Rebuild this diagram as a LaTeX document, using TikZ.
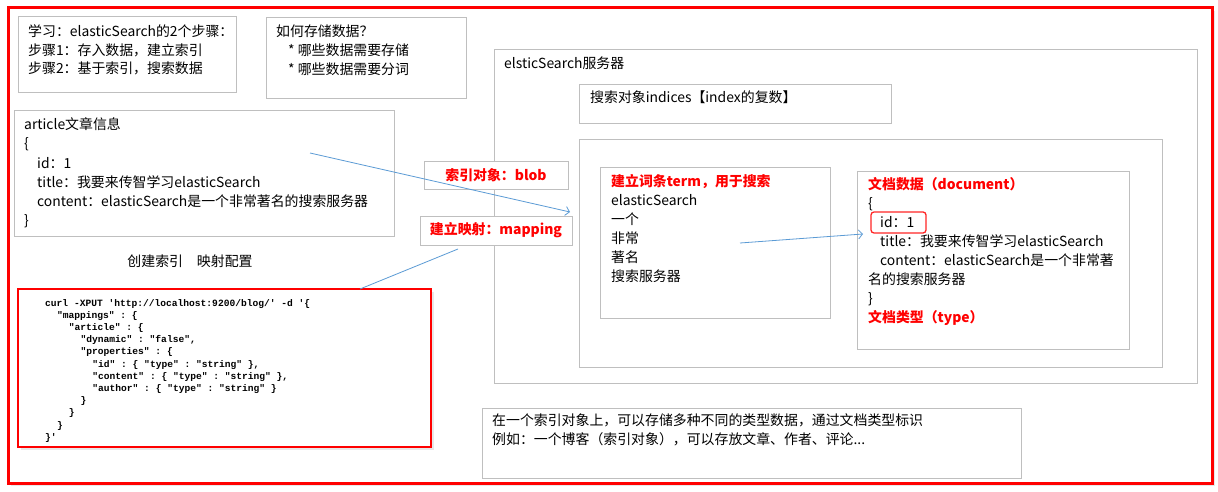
\documentclass[tikz,border=0pt]{standalone}
\usepackage{fontspec}
\setmainfont{Noto Sans CJK SC}
\setmonofont{Liberation Mono}
\usetikzlibrary{arrows.meta, fit, shadows}
\definecolor{boxgray}{RGB}{191,191,191}
\definecolor{linkblue}{RGB}{91,155,213}
\definecolor{markred}{RGB}{255,0,0}

\begin{document}
\begin{tikzpicture}[x=1pt, y=-1pt, >={Straight Barb[length=4pt,width=9pt]},
        gbox/.style={draw=boxgray, line width=1pt, inner sep=0pt, fill=white},
        rbox/.style={draw=markred, inner sep=0pt, fill=white,
            drop shadow={shadow xshift=3pt, shadow yshift=-3pt, opacity=.18}},
        txt/.style={anchor=base west, inner sep=0pt, font=\fontsize{13.9}{19}\selectfont},
        lbl/.style={txt, text=markred, font=\bfseries\fontsize{13.9}{19}\selectfont},
        codetxt/.style={anchor=base west, inner sep=0pt, font=\ttfamily\bfseries\fontsize{9.6}{12}\selectfont},
        link/.style={draw=linkblue, line width=.8pt}]
    \useasboundingbox (0,0) rectangle (1218,492);
    \node(frame)[rbox, line width=3pt, fit={(8,8) (1212,483)}] {};

    % left column
    \node(steps)[gbox, fit={(18,17) (236,93)}] {};
    \foreach \ln [count=\i from 0] in {学习：elasticSearch的2个步骤：,
            步骤1：存入数据，建立索引, 步骤2：基于索引，搜索数据}
        \node(steps\i)[txt] at (28,37+18.5*\i) {\ln};
    \node(store)[gbox, fit={(266,18) (466,99)}] {};
    \node(store0)[txt] at (276,37) {如何存储数据？};
    \node(store1)[txt] at (288,56) {* 哪些数据需要存储};
    \node(store2)[txt] at (288,75) {* 哪些数据需要分词};

    \node(article)[gbox, fit={(14,111) (394,236)}] {};
    \foreach \dx/\ln [count=\i from 0] in {0/article文章信息, 0/\{, 13/id：1,
            13/title：我要来传智学习elasticSearch,
            13/content：elasticSearch是一个非常著名的搜索服务器, 0/\}}
        \node(article\i)[txt] at (24+\dx,130+19*\i) {\ln};
    \node(howto)[txt, anchor=base] at (190,266) {创建索引\hspace{1em}映射配置};

    \node(code)[rbox, line width=2.5pt, fit={(18,289) (431,447)}] {};
    \foreach \lv/\ln [count=\i from 0] in {
            0/{curl -XPUT 'http://localhost:9200/blog/' -d '\{},
            1/{"mappings" : \{},
            2/{"article" : \{},
            3/{"dynamic" : "false",},
            3/{"properties" : \{},
            4/{"id" : \{ "type" : "string" \},},
            4/{"content" : \{ "type" : "string" \},},
            4/{"author" : \{ "type" : "string" \}},
            3/\}, 2/\}, 1/\}, 0/{\}'}}
        \node(code\i)[codetxt] at (45+11.8*\lv,306+12.2*\i) {\ln};

    % server
    \node(server)[gbox, fit={(494,50) (1197,383)}] {};
    \node(servername)[txt] at (504,69) {elsticSearch服务器};
    \node(indices)[gbox, fit={(579,85) (891,124)}] {};
    \node(indicesname)[txt] at (590,103) {搜索对象indices【index的复数】};
    \node(index)[gbox, fit={(579,140) (1162,367)}] {};

    \node(term)[gbox, fit={(600,167) (830,318)}] {};
    \node(term0)[lbl] at (611,186) {建立词条term，用于搜索};
    \foreach \ln [count=\i from 1] in {elasticSearch, 一个, 非常, 著名, 搜索服务器}
        \node(term\i)[txt] at (611,186+19*\i) {\ln};

    \node(doc)[gbox, fit={(857,171) (1129,349)}] {};
    \node(idmark)[draw=markred!85, line width=1.3pt, rounded corners=3pt,
        inner sep=0pt, fit={(871,212) (926,233)}] {};
    \node(doc0)[lbl] at (868,189) {文档数据（document）};
    \foreach \dx/\ln [count=\i from 1] in {0/\{, 12/id：1,
            12/title：我要来传智学习elasticSearch,
            12/content：elasticSearch是一个非常著, 0/名的搜索服务器, 0/\}}
        \node(doc\i)[txt] at (868+\dx,189+19*\i) {\ln};
    \node(doc7)[lbl] at (868,322) {文档类型（type）};

    \node(note)[gbox, fit={(482,408) (1021,478)}] {};
    \node(note0)[txt] at (492,425) {在一个索引对象上，可以存储多种不同的类型数据，通过文档类型标识};
    \node(note1)[txt] at (492,444) {例如：一个博客（索引对象），可以存放文章、作者、评论...};

    % labels over the server edge
    \node(blob)[gbox, fit={(424,161) (568,189)}] {};
    \node[lbl, anchor=center] at (blob) {索引对象：blob};
    \node(mapping)[gbox, fit={(420,216) (572,245)}] {};
    \node[lbl, anchor=center] at (mapping) {建立映射：mapping};

    % connectors
    \coordinate(a1) at (310,153);
    \coordinate(a2) at (570,212);
    \draw[link,->] (a1) -- (a2);
    \coordinate(m1) at (458,249);
    \coordinate(m2) at (360,289);
    \draw[link] (m1) -- (m2);
    \coordinate(t1) at (740,243);
    \coordinate(t2) at (863,234);
    \draw[link,->] (t1) -- (t2);
\end{tikzpicture}
\end{document}
